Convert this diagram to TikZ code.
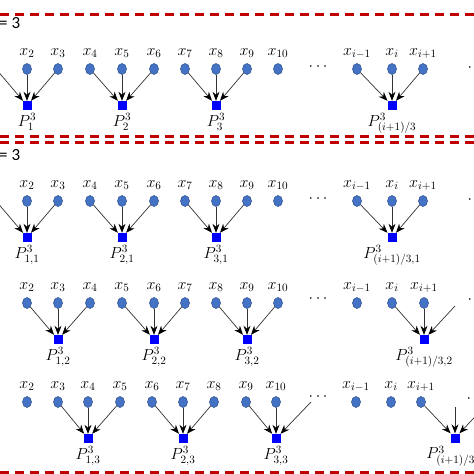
\RequirePackage{fix-cm}
\documentclass[tikz,border=0pt]{standalone}
\usepackage{fontspec}
\newfontfamily\eqfont{Carlito}
\usetikzlibrary{arrows.meta, positioning, shapes.geometric}
\definecolor{dashred}{HTML}{C00000}
\definecolor{dotblue}{HTML}{4472C4}
\definecolor{dotedge}{HTML}{2F528F}
\definecolor{sqblue}{HTML}{0000FF}
\tikzset{
  xdot/.style={ellipse, fill=dotblue, draw=dotedge, line width=0.6pt,
    minimum width=9pt, minimum height=11pt, inner sep=0pt},
  psq/.style={rectangle, fill=sqblue, minimum size=9pt, inner sep=0pt},
  xlab/.style={font=\fontsize{16}{19}\selectfont, text height=8pt, text depth=3pt,
    inner sep=0pt, label distance=5pt},
  plab/.style={font=\fontsize{16}{19}\selectfont, text height=14pt, text depth=4pt,
    inner sep=0pt, label distance=2pt},
  feed/.style={black!80, line width=0.7pt, -{Stealth[length=9pt,width=7pt,black]}},
  sep/.style={dashred, line width=3pt, dash pattern=on 9pt off 6pt},
  dots/.style={font=\fontsize{16}{19}\selectfont, inner sep=0pt},
  eqlab/.style={font=\eqfont\fontsize{17}{20}\selectfont, anchor=west, inner sep=0pt}
}

\begin{document}
\begin{tikzpicture}[x=1pt, y=-1pt]
  \useasboundingbox (0,0) rectangle (474,474);
  \clip (0,0) rectangle (474,474);
  % dashed separators
  \draw[sep] (0,14.5) -- (474,14.5);
  \draw[sep] (0,136) -- (474,136);
  \draw[sep] (0,142) -- (474,142);
  \draw[sep] (0,472) -- (474,472);

  % rows 1 and 2: groups of three, starting at x_1
  \foreach \r/\dy/\sfx in {a/0/{}, b/132/{,1}} {
    \begin{scope}[yshift={-\dy pt}]
      \node[eqlab] (\r k) at (-1,23) {= 3};
      \coordinate (\r1) at (-4,69);
      \foreach \n/\xx in {2/27, 3/58, 4/90, 5/122, 6/154, 7/185, 8/216, 9/247, 10/278}
        \node[xdot, label={[xlab]above:$x_{\n}$}] (\r\n) at (\xx,69) {};
      \node[dots] (\r q) at (318,67) {$\cdots$};
      \node[xdot, label={[xlab]above:$x_{i-1}$}] (\r m) at (357,69) {};
      \node[xdot, label={[xlab]above:$x_{i}$}] (\r i) at (392,69) {};
      \node[xdot, label={[xlab]above:$x_{i+1}$}] (\r p) at (423,69) {};
      \node[dots] (\r e) at (477,68) {$\cdots$};
      \foreach \k/\s in {1/2, 2/5, 3/8}
        \node[psq, below=26pt of \r\s, label={[plab]below:$P^3_{\k\sfx}$}] (p\r\k) {};
      \node[psq, below=26pt of \r i, label={[plab]below:$P^3_{(i+1)/3\sfx}$}] (p\r4) {};
      \foreach \k/\u/\v/\w in {1/1/2/3, 2/4/5/6, 3/7/8/9, 4/m/i/p}
        \foreach \s in {\u,\v,\w}
          \draw[feed] (\r\s) -- (p\r\k);
    \end{scope}
  }

  % row 3: groups shifted by one
  \foreach \n/\xx in {2/27, 3/58, 4/90, 5/122, 6/154, 7/185, 8/216, 9/247, 10/278}
    \node[xdot, label={[xlab]above:$x_{\n}$}] (c\n) at (\xx,303) {};
  \node[dots] (cq) at (318,299) {$\cdots$};
  \node[xdot, label={[xlab]above:$x_{i-1}$}] (cm) at (357,303) {};
  \node[xdot, label={[xlab]above:$x_{i}$}] (ci) at (392,303) {};
  \node[xdot, label={[xlab]above:$x_{i+1}$}] (cp) at (424,303) {};
  \coordinate (cg) at (455,306);
  \node[dots] (ce) at (477,300) {$\cdots$};
  \foreach \k/\s in {1/3, 2/6, 3/9}
    \node[psq, below=26pt of c\s, label={[plab]below:$P^3_{\k,2}$}] (pc\k) {};
  \node[psq, below=26pt of cp, label={[plab]below:$P^3_{(i+1)/3,2}$}] (pc4) {};
  \foreach \k/\u/\v/\w in {1/2/3/4, 2/5/6/7, 3/8/9/10, 4/i/p/g}
    \foreach \s in {\u,\v,\w}
      \draw[feed] (c\s) -- (pc\k);

  % row 4: groups shifted by two
  \foreach \n/\xx in {2/27, 3/58, 4/88, 5/120, 6/152, 7/183, 8/214, 9/246, 10/276}
    \node[xdot, label={[xlab]above:$x_{\n}$}] (d\n) at (\xx,402) {};
  \node[dots] (dq) at (318,397) {$\cdots$};
  \coordinate (dg) at (311,402);
  \node[xdot, label={[xlab]above:$x_{i-1}$}] (dm) at (356,402) {};
  \node[xdot, label={[xlab]above:$x_{i}$}] (di) at (391,402) {};
  \node[xdot, label={[xlab]above:$x_{i+1}$}] (dp) at (421,402) {};
  \coordinate (dh) at (455,407);
  \coordinate (dj) at (487,404);
  \node[dots] (de) at (476,399) {$\cdots$};
  \foreach \k/\s in {1/4, 2/7, 3/10}
    \node[psq, below=26pt of d\s, label={[plab]below:$P^3_{\k,3}$}] (pd\k) {};
  \node[psq, label={[plab]below:$P^3_{(i+1)/3,3}$}] (pd4) at (455,438) {};
  \foreach \k/\u/\v/\w in {1/3/4/5, 2/6/7/8, 3/9/10/g, 4/p/h/j}
    \foreach \s in {\u,\v,\w}
      \draw[feed] (d\s) -- (pd\k);
\end{tikzpicture}
\end{document}
